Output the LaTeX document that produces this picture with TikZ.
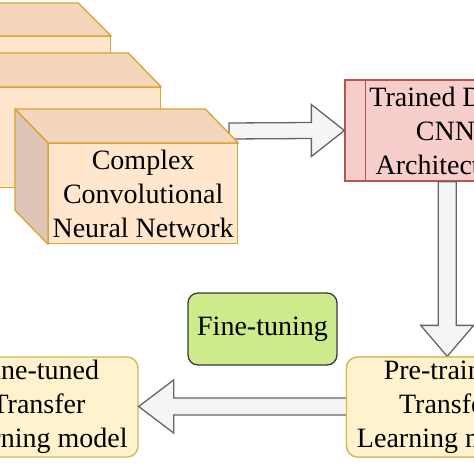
\documentclass[tikz,border=0pt]{standalone}
\usepackage{fontspec}
\setmainfont{Liberation Serif}
\usetikzlibrary{calc}
\definecolor{cubefront}{HTML}{FFE6CC}
\definecolor{cubetopc}{HTML}{F3D6BC}
\definecolor{cubeleftc}{HTML}{DFC5B5}
\definecolor{cubestroke}{HTML}{D6A533}
\definecolor{redfill}{HTML}{F8CECC}
\definecolor{redstroke}{HTML}{B85450}
\definecolor{yelfill}{HTML}{FFF2CC}
\definecolor{yelstroke}{HTML}{D6B656}
\definecolor{grnfill}{HTML}{CDEB8B}
\definecolor{grnstroke}{HTML}{36393D}
\definecolor{arrfill}{HTML}{F5F5F5}
\definecolor{arrstroke}{HTML}{666666}
\tikzset{
  lbl/.style={font=\fontsize{28}{34}\selectfont, align=center, text=black},
  cubeface/.style={draw=cubestroke, fill=cubefront, line width=1.3pt, minimum width=189pt, minimum height=100pt, inner sep=0pt, lbl},
  cubetop/.style={draw=cubestroke, fill=cubetopc, line width=1.3pt, line join=round},
  cubeleft/.style={draw=cubestroke, fill=cubeleftc, line width=1.3pt, line join=round},
  procbox/.style={draw=redstroke, fill=redfill, line width=1.3pt, minimum width=201pt, minimum height=101pt, inner sep=0pt, lbl},
  yelbox/.style={draw=yelstroke, fill=yelfill, line width=1.3pt, rounded corners=11pt, minimum width=199pt, minimum height=100pt, inner sep=0pt, lbl},
  grnbox/.style={draw=grnstroke, fill=grnfill, line width=1.3pt, rounded corners=10pt, minimum width=149pt, minimum height=72pt, inner sep=0pt, lbl},
  blockarrow/.style={draw=arrstroke, fill=arrfill, line width=1.3pt, line join=miter}
}
\newcommand{\mycube}[6]{%
  \node[cubeface, anchor=north west] (#1) at (#2,#3) {#6};
  \filldraw[cubetop] (#1.north west) -- ++(-#4,-#5) -- ($(#1.north east)+(-#4,-#5)$) -- (#1.north east) -- cycle;
  \filldraw[cubeleft] (#1.north west) -- ++(-#4,-#5) -- ($(#1.south west)+(-#4,-#5)$) -- (#1.south west) -- cycle;
}
\begin{document}
\begin{tikzpicture}[x=1pt,y=-1pt]
\useasboundingbox (0,0) rectangle (474,474);
\fill[white] (0,0) rectangle (474,474);
\begin{scope}
\clip (0,0) rectangle (474,474);
% stacked cubes
\mycube{cubeA}{-79}{36}{33}{33}{}
\mycube{cubeB}{-29}{87}{33}{34}{}
% arrow 1 (behind front cube)
\coordinate (s1) at (229,131);
\node[procbox] (trained) at (445.5,130.5) {Trained Deep\\CNN\\Architecture};
\draw[redstroke, line width=1.3pt] ($(trained.north west)+(21,0)$) -- ($(trained.south west)+(21,0)$);
\draw[redstroke, line width=1.3pt] ($(trained.north east)+(-21,0)$) -- ($(trained.south east)+(-21,0)$);
\coordinate (t1) at (trained.west);
\filldraw[blockarrow] ($(s1)+(0,-8)$) -- ($(t1)+(-33,-8)$) -- ($(t1)+(-33,-26)$) -- (t1) -- ($(t1)+(-33,26)$) -- ($(t1)+(-33,8)$) -- ($(s1)+(0,8)$) -- cycle;
\mycube{cubeC}{48}{143}{33}{34}{Complex\\Convolutional\\Neural Network}
% boxes
\node[yelbox] (pretrained) at (446,407) {Pre-trained\\Transfer\\Learning model};
\node[yelbox] (finetuned) at (38.5,407) {Fine-tuned\\Transfer\\Learning model};
\node[grnbox] (finetuning) at (262.5,329) {Fine-tuning};
% arrow 2 (down)
\coordinate (s2) at ($(trained.south)+(1.7,0)$);
\coordinate (t2) at ($(pretrained.north)+(1.2,0)$);
\filldraw[blockarrow] ($(s2)+(-9,0)$) -- ($(t2)+(-9,-31)$) -- ($(t2)+(-26.5,-31)$) -- (t2) -- ($(t2)+(26.5,-31)$) -- ($(t2)+(9,-31)$) -- ($(s2)+(9,0)$) -- cycle;
% arrow 3 (left)
\coordinate (s3) at ($(pretrained.west)+(1,-0.5)$);
\coordinate (t3) at ($(finetuned.east)+(0,-0.5)$);
\filldraw[blockarrow] ($(s3)+(0,-8.5)$) -- ($(t3)+(35,-8.5)$) -- ($(t3)+(35,-26.5)$) -- (t3) -- ($(t3)+(35,26.5)$) -- ($(t3)+(35,8.5)$) -- ($(s3)+(0,8.5)$) -- cycle;
% redraw pretrained border edge over arrow start
\node[yelbox] at (pretrained) {Pre-trained\\Transfer\\Learning model};
\end{scope}
\end{tikzpicture}
\end{document}
